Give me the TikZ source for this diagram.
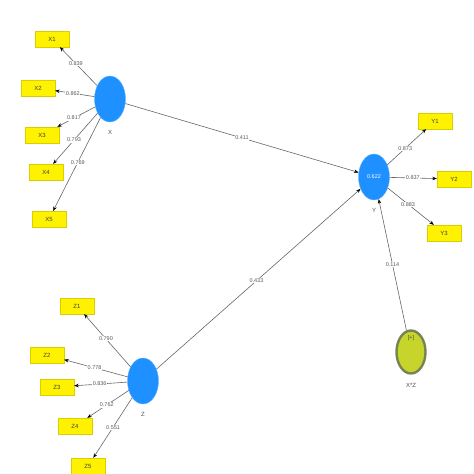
\documentclass[tikz,border=0pt]{standalone}
\usepackage{fontspec}
\setmainfont{Liberation Sans}
\usetikzlibrary{shapes.geometric,arrows.meta}
\definecolor{azulpls}{RGB}{30,144,255}
\definecolor{amarillo}{RGB}{255,242,0}
\definecolor{lima}{RGB}{198,212,44}
\definecolor{oliva}{RGB}{118,132,84}
\tikzset{
	constructo/.style={ellipse, fill=azulpls, draw=azulpls!70!white, minimum width=31pt, minimum height=46pt, inner sep=0pt},
	indicador/.style={rectangle, fill=amarillo, draw=amarillo!85!black, line width=0.3pt, minimum width=34pt, minimum height=16pt, inner sep=0pt, font=\fontsize{6}{7}\selectfont, text=black!75},
	carga/.style={fill=white, inner sep=0.6pt, font=\fontsize{5.5}{6}\selectfont, text=black!65},
	nombre/.style={font=\fontsize{6}{7}\selectfont, text=black!70, label distance=5pt},
	flecha/.style={draw=black!60, line width=0.6pt, -{Stealth[length=4.5pt,width=3.5pt,color=black]}},
}
\begin{document}
\begin{tikzpicture}[x=1pt,y=-1pt]
	\useasboundingbox (0,0) rectangle (474,474);
		% Constructos
			\node[constructo, label={[nombre]below:X}] (X) at (110,99) {};
			\node[constructo, label={[nombre]below:Y}, font=\fontsize{5.5}{6}\selectfont, text=white] (Y) at (374,177) {0.622};
			\node[constructo, label={[nombre]below:Z}] (Z) at (143,381) {};
			\node[ellipse, fill=lima, draw=oliva, line width=2.4pt, minimum width=29pt, minimum height=43pt, inner sep=0pt,
				label={[nombre]below:X*Z},
				label={[font=\fontsize{5.5}{6}\selectfont, text=black!75, anchor=north, yshift=-3pt]north:{[+]}}] (XZ) at (411,352) {};

		% Indicadores de X
			\node[indicador] (X1) at (52,39) {X1};
			\node[indicador] (X2) at (38,88) {X2};
			\node[indicador] (X3) at (42,135) {X3};
			\node[indicador] (X4) at (46,172) {X4};
			\node[indicador] (X5) at (49,219) {X5};

		% Indicadores de Y
			\node[indicador] (Y1) at (435,121) {Y1};
			\node[indicador] (Y2) at (454,179) {Y2};
			\node[indicador] (Y3) at (444,233) {Y3};

		% Indicadores de Z
			\node[indicador] (Z1) at (77,306) {Z1};
			\node[indicador] (Z2) at (47,355) {Z2};
			\node[indicador] (Z3) at (57,387) {Z3};
			\node[indicador] (Z4) at (75,426) {Z4};
			\node[indicador] (Z5) at (88,466) {Z5};

		% Cargas
			\draw[flecha] (X) -- node[carga, pos=0.57] {0.839} (X1);
			\draw[flecha] (X) -- node[carga, pos=0.55] {0.862} (X2);
			\draw[flecha] (X) -- node[carga, pos=0.56] {0.817} (X3);
			\draw[flecha] (X) -- node[carga, pos=0.53] {0.793} (X4);
			\draw[flecha] (X) -- node[carga, pos=0.48] {0.769} (X5);
			\draw[flecha] (Y) -- node[carga, pos=0.46] {0.873} (Y1);
			\draw[flecha] (Y) -- node[carga, pos=0.49] {0.837} (Y2);
			\draw[flecha] (Y) -- node[carga, pos=0.44] {0.883} (Y3);
			\draw[flecha] (Z) -- node[carga, pos=0.53] {0.790} (Z1);
			\draw[flecha] (Z) -- node[carga, pos=0.52] {0.778} (Z2);
			\draw[flecha] (Z) -- node[carga, pos=0.52] {0.836} (Z3);
			\draw[flecha] (Z) -- node[carga, pos=0.53] {0.762} (Z4);
			\draw[flecha] (Z) -- node[carga, pos=0.49] {0.551} (Z5);

		% Caminos
			\draw[flecha] (X) -- node[carga, pos=0.50] {0.411} (Y);
			\draw[flecha] (Z) -- node[carga, pos=0.49] {0.433} (Y);
			\draw[flecha] (XZ) -- node[carga, pos=0.50] {0.114} (Y);
\end{tikzpicture}
\end{document}
